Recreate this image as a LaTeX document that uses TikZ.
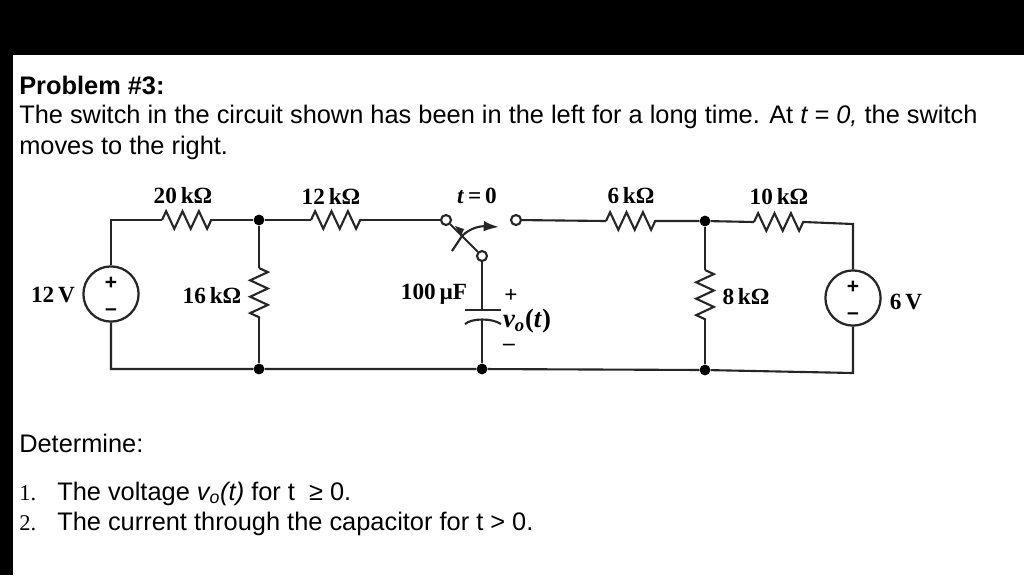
\documentclass[tikz,border=0pt]{standalone}
\usepackage{fontspec}
\setmainfont{Liberation Sans}
\newfontfamily\labelfont{Liberation Serif}
\usetikzlibrary{arrows.meta,decorations.pathmorphing}

\tikzset{
    wire/.style={line width=1.5pt, color=black!85},
    res/.style={wire, decorate, decoration={zigzag, segment length=0.41cm, amplitude=0.22cm, pre length=0pt, post length=0pt}},
    junction/.style={circle, fill=black, inner sep=0pt, minimum size=0.27cm},
    contact/.style={circle, draw=black!85, line width=1.5pt, fill=white, inner sep=0pt, minimum size=0.25cm},
    source/.style={circle, draw=black!85, line width=1.6pt, inner sep=0pt, minimum size=1.38cm},
    prose/.style={anchor=base west, inner sep=0pt, font=\fontsize{18.05}{20}\selectfont},
    lbl/.style={inner sep=0pt, font=\labelfont\bfseries\fontsize{16.5}{18}\selectfont},
    sign/.style={inner sep=0pt, font=\bfseries\fontsize{15}{15}\selectfont}
}

\begin{document}
\begin{tikzpicture}[x=0.025cm, y=-0.025cm]
    \useasboundingbox (0,0) rectangle (1024,575);

    % Draw the page
    \fill[black] (0,0) rectangle (1024,575);
    \fill[white] (12.5,55) rectangle (1024,575);

    % Draw the text
    \node[prose] (title) at (19,94) {\textbf{Problem \#3:}};
    \node[prose] (line1) at (19,123) {The switch in the circuit shown has been in the left for a long time. At \textit{t = 0,} the switch};
    \node[prose] (line2) at (19,154) {moves to the right.};
    \node[prose] (det) at (19,452) {Determine:};
    \node[prose, font=\labelfont\fontsize{16}{20}\selectfont] (num1) at (19,500) {1.};
    \node[prose] (item1) at (57,500) {The voltage \textit{v\textsubscript{o}(t)} for t \ ≥ 0.};
    \node[prose, font=\labelfont\fontsize{16}{20}\selectfont] (num2) at (19,530) {2.};
    \node[prose] (item2) at (57,530) {The current through the capacitor for t > 0.};

    % Corners and resistor ends
    \coordinate (tl) at (111,220);
    \coordinate (bl) at (111,369);
    \coordinate (tr) at (853,224);
    \coordinate (br) at (853,373);
    \coordinate (r1a) at (162,220);
    \coordinate (r1b) at (212,220);
    \coordinate (r2a) at (259,268);
    \coordinate (r2b) at (259,318);
    \coordinate (r3a) at (311,220);
    \coordinate (r3b) at (361,220);
    \coordinate (r4a) at (606,221);
    \coordinate (r4b) at (656,221);
    \coordinate (r5a) at (754,222);
    \coordinate (r5b) at (804,222);
    \coordinate (r6a) at (705,270);
    \coordinate (r6b) at (705,320);
    \coordinate (plate) at (482,310);
    \coordinate (curve) at (482,319);

    % Junctions, contacts and sources
    \node[junction] (n1) at (259,220) {};
    \node[junction] (n2) at (259,369) {};
    \node[junction] (n3) at (482,369) {};
    \node[junction] (n4) at (705,221) {};
    \node[junction] (n5) at (705,370) {};
    \node[contact] (sl) at (446,220) {};
    \node[contact] (sr) at (516,220) {};
    \node[contact] (sc) at (482,256) {};
    \node[source] (v1) at (111,294) {};
    \node[source] (v2) at (853,298) {};

    % Draw the wires
    \draw[wire] (v1) -- (tl) -- (r1a);
    \draw[res] (r1a) -- (r1b);
    \draw[wire] (r1b) -- (n1) -- (r3a);
    \draw[res] (r3a) -- (r3b);
    \draw[wire] (r3b) -- (sl);
    \draw[wire] (n1) -- (r2a);
    \draw[res] (r2a) -- (r2b);
    \draw[wire] (r2b) -- (n2);
    \draw[wire] (v1) -- (bl) -- (n2) -- (n3) -- (n5) -- (br) -- (v2);
    \draw[wire] (sr) -- (r4a);
    \draw[res] (r4a) -- (r4b);
    \draw[wire] (r4b) -- (n4) -- (r5a);
    \draw[res] (r5a) -- (r5b);
    \draw[wire] (r5b) -- (tr) -- (v2);
    \draw[wire] (n4) -- (r6a);
    \draw[res] (r6a) -- (r6b);
    \draw[wire] (r6b) -- (n5);

    % Draw the switch
    \draw[wire] (sl) -- (sc);
    \draw[wire, -{Latex[length=0.38cm,width=0.26cm]}] (452,251) -- (462,236) .. controls (470,228) and (480,226) .. (499,227);
    \fill[black!85] (455,226) -- (464,229) -- (461,236) -- cycle;

    % Draw the capacitor
    \draw[wire] (sc) -- (plate);
    \draw[wire] (465,310) -- (501,310);
    \draw[wire] (465,324) .. controls (472,318) and (492,318) .. (501,324);
    \draw[wire] (curve) -- (n3);

    % Draw the labels
    \node[lbl] (l1) at (183,196) {20\,kΩ};
    \node[lbl] (l2) at (331,196) {12\,kΩ};
    \node[lbl] (l3) at (477,196) {\textit{t}\,=\,0};
    \node[lbl] (l4) at (631,196) {6\,kΩ};
    \node[lbl] (l5) at (779,197) {10\,kΩ};
    \node[lbl] (l6) at (53,295) {12\,V};
    \node[lbl] (l7) at (212,296) {16\,kΩ};
    \node[lbl] (l8) at (434,294) {100\,µF};
    \node[lbl] (l9) at (746,297) {8\,kΩ};
    \node[lbl] (l10) at (906,302) {6\,V};
    \node[lbl, font=\labelfont\bfseries\fontsize{19}{20}\selectfont] (l11) at (527,321) {\textit{v\textsubscript{o}}(\textit{t})};
    \node[lbl] (pc) at (511,296) {+};
    \node[lbl] (mc) at (509,347) {–};
    \node[sign] (p1) at (111,283) {+};
    \node[sign] (m1) at (111,312) {–};
    \node[sign] (p2) at (853,287) {+};
    \node[sign] (m2) at (853,316) {–};
\end{tikzpicture}
\end{document}
